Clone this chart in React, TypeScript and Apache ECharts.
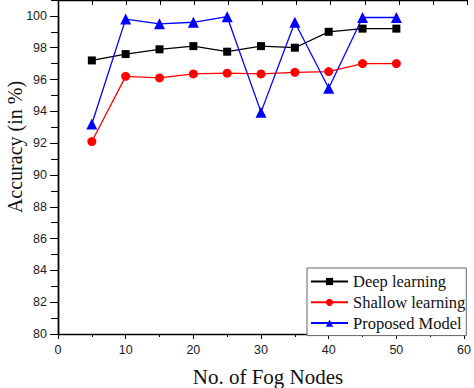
import React, { useEffect, useRef } from "react";
import * as echarts from "echarts";

const fogNodes = [5, 10, 15, 20, 25, 30, 35, 40, 45, 50];
const deepLearning = [97.2, 97.6, 97.9, 98.1, 97.75, 98.1, 98.0, 99.0, 99.2, 99.2];
const shallowLearning = [92.1, 96.2, 96.1, 96.35, 96.4, 96.35, 96.45, 96.5, 97.0, 97.0];
const proposedModel = [93.2, 99.8, 99.5, 99.6, 99.95, 93.95, 99.6, 95.45, 99.9, 99.9];

const xTitle = "No. of Fog Nodes";
const yTitle = "Accuracy (in %)";
const seriesNames = ["Deep learning", "Shallow learning", "Proposed Model"];

const W = 474;
const H = 388;
const GL = 58;
const GR = 7;
const GB = 54;
const unit = (H - GB) / 21;

export default function App() {
  const ref = useRef<HTMLDivElement>(null);
  useEffect(() => {
    if (!ref.current) return;
    const chart = echarts.init(ref.current, null, { renderer: "svg" });
    const pair = (ys: number[]) => fogNodes.map((x, i) => [x, ys[i]]);
    const lineCol = "#000";
    const labelFont = { fontFamily: "Liberation Sans", fontSize: 12.5, color: "#222" };
    chart.setOption({
      animation: false,
      backgroundColor: "#fff",
      grid: [
        { left: GL, right: GR, top: 0, bottom: GB },
        { left: GL, right: GR, top: unit, bottom: GB },
      ],
      xAxis: [
        {
          gridIndex: 0, type: "value", position: "top", min: 0, max: 60, interval: 5,
          axisLine: { show: true, lineStyle: { color: lineCol, width: 1.3 } },
          axisTick: { show: true, inside: true, length: 5, lineStyle: { color: lineCol } },
          axisLabel: { show: false }, splitLine: { show: false },
        },
        {
          gridIndex: 1, type: "value", position: "bottom", min: 0, max: 60, interval: 10,
          axisLine: { show: true, onZero: false, lineStyle: { color: lineCol, width: 1.3 } },
          axisTick: { show: true, inside: false, length: 5, lineStyle: { color: lineCol } },
          minorTick: { show: true, splitNumber: 2, length: 3, lineStyle: { color: lineCol } },
          axisLabel: { show: true, margin: 9, ...labelFont },
          splitLine: { show: false },
        },
      ],
      yAxis: [
        {
          gridIndex: 0, type: "value", position: "right", min: 80, max: 101, interval: 1,
          axisLine: { show: true, lineStyle: { color: lineCol, width: 1.3 } },
          axisTick: { show: true, inside: true, length: 7, lineStyle: { color: lineCol } },
          axisLabel: { show: false }, splitLine: { show: false },
        },
        {
          gridIndex: 0, type: "value", position: "left", min: 80, max: 101, interval: 1,
          axisLine: { show: true, lineStyle: { color: lineCol, width: 1.3 } },
          axisTick: { show: false }, axisLabel: { show: false }, splitLine: { show: false },
        },
        {
          gridIndex: 1, type: "value", position: "left", min: 80, max: 100, interval: 2,
          axisLine: { show: true, onZero: false, lineStyle: { color: lineCol, width: 1.3 } },
          axisTick: { show: true, inside: false, length: 8, lineStyle: { color: lineCol } },
          minorTick: { show: true, splitNumber: 2, length: 4, lineStyle: { color: lineCol } },
          axisLabel: { show: true, margin: 11, ...labelFont },
          splitLine: { show: false },
        },
      ],
      legend: {
        orient: "vertical",
        left: 307,
        top: 268,
        padding: [5, 1, 4, 3],
        itemWidth: 37,
        itemHeight: 9,
        itemGap: 3.8,
        borderColor: "#666",
        borderWidth: 1,
        backgroundColor: "#fff",
        textStyle: { fontFamily: "Liberation Serif", fontSize: 16.5, color: "#111" },
        data: seriesNames,
      },
      graphic: [
        {
          type: "text", x: 268, y: 377,
          style: { text: xTitle, font: "21px 'Liberation Serif'", fill: "#111", align: "center", verticalAlign: "middle" },
        },
        {
          type: "text", x: 14.5, y: 147, rotation: Math.PI / 2,
          style: { text: yTitle, font: "20px 'Liberation Serif'", fill: "#111", align: "center", verticalAlign: "middle" },
        },
      ],
      series: [
        {
          name: seriesNames[0], type: "line", xAxisIndex: 1, yAxisIndex: 2, data: pair(deepLearning),
          symbol: "rect", symbolSize: 8, itemStyle: { color: "#000" }, lineStyle: { color: "#000", width: 1.3 },
        },
        {
          name: seriesNames[1], type: "line", xAxisIndex: 1, yAxisIndex: 2, data: pair(shallowLearning),
          symbol: "circle", symbolSize: 9, itemStyle: { color: "#ff0000" }, lineStyle: { color: "#ff0000", width: 1.3 },
        },
        {
          name: seriesNames[2], type: "line", xAxisIndex: 1, yAxisIndex: 2, data: pair(proposedModel),
          symbol: "triangle", symbolSize: 11, itemStyle: { color: "#0000ff" }, lineStyle: { color: "#0000ff", width: 1.3 },
        },
      ],
    });
    return () => chart.dispose();
  }, []);
  return <div ref={ref} style={{ position: "fixed", left: 0, top: 0, width: W, height: H }} />;
}
